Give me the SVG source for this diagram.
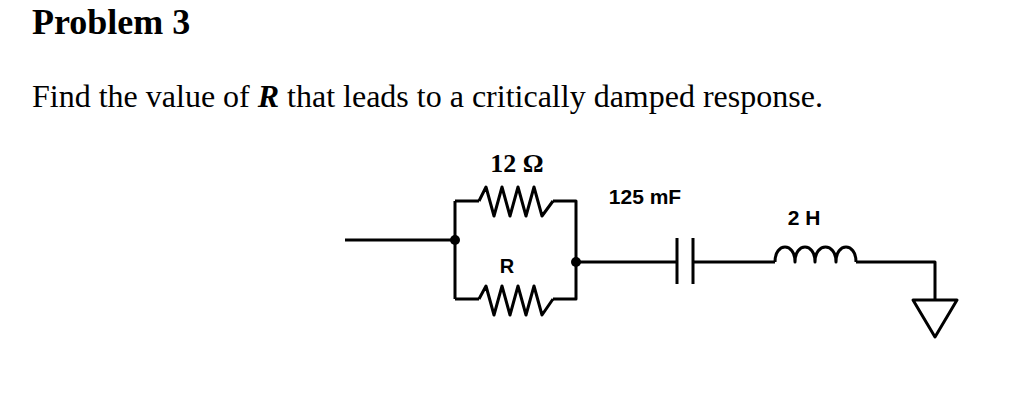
<svg xmlns="http://www.w3.org/2000/svg" width="1020" height="418" viewBox="0 0 1020 418">
<style>
.w{fill:none;stroke:#000;stroke-width:3;stroke-linejoin:round}
.s{font-family:"Liberation Serif",serif;fill:#000}
.a{font-family:"Liberation Sans",sans-serif;font-weight:bold;font-size:20px;fill:#000}
</style>
<rect width="1020" height="418" fill="#fff"/>
<text class="s" x="32" y="34" font-size="36" font-weight="bold">Problem 3</text>
<text class="s" x="32" y="107" font-size="32">Find the value of <tspan font-style="italic" font-weight="bold">R</tspan> that leads to a critically damped response.</text>
<g id="connectors">
<path class="w" d="M345 240H455M455 201V299M455 201H479M553 201H576V299H553M479 299H455M576 262H677M693 262H775M856 262H935V300"/>
</g>
<g id="R12"><path class="w" d="M479 201L486 187L494 216L502 187L510 216L518 187L526 216L534 187L542 216L553 201"/><text x="517" y="172" text-anchor="middle" class="s" font-size="26" font-weight="bold">12 Ω</text></g>
<g id="R"><path class="w" d="M479 299L486 286L494 315L502 286L510 315L518 286L526 315L534 286L542 315L553 299"/><text x="507" y="273" text-anchor="middle" class="a">R</text></g>
<g id="nodes"><circle cx="455" cy="240" r="5"/><circle cx="576" cy="262" r="5"/></g>
<g id="C"><path class="w" d="M677 238V284M693 238V284"/><text x="645" y="204" text-anchor="middle" class="a" style="font-size:21px">125 mF</text></g>
<g id="L"><path class="w" d="M775 262C775 242 795 242 795 262C795 242 815 242 815 262C815 242 836 242 836 262C836 242 856 242 856 262"/><text x="804" y="225" text-anchor="middle" class="a" style="font-size:21px">2 H</text></g>
<g id="gnd"><path class="w" d="M913 300H957L935 337Z"/></g>
</svg>
